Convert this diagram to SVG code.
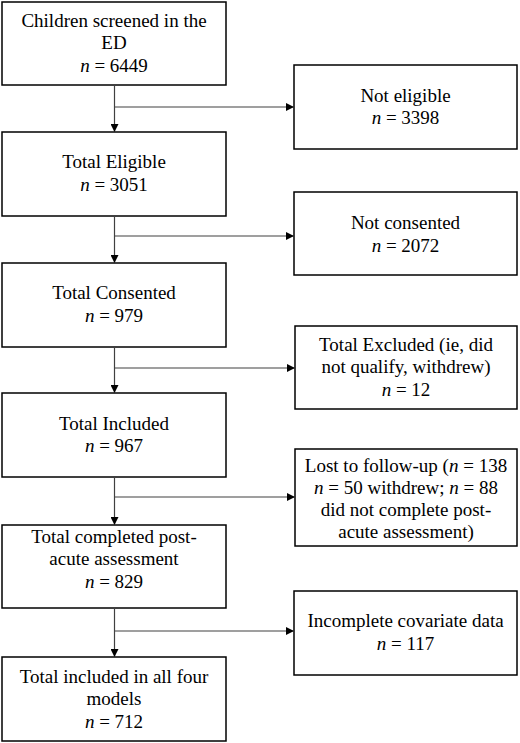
<svg xmlns="http://www.w3.org/2000/svg" width="520" height="743" viewBox="0 0 520 743" font-family="Liberation Serif, Times New Roman, serif">
<style>
rect{fill:#fff;stroke:#000;stroke-width:1.5}
text{font-size:19px;fill:#000;text-anchor:middle}
.c line{stroke:#404040;stroke-width:1.2}
</style>
<defs>
<marker id="ah" viewBox="0 0 10 10" refX="10" refY="5" markerWidth="8" markerHeight="8" markerUnits="userSpaceOnUse" orient="auto">
<path d="M0,0 L10,5 L0,10 Z" fill="#000"/>
</marker>
</defs>
<rect x="0" y="0" width="520" height="743" style="fill:#fff;stroke:none"/>
<g id="n1"><rect x="2" y="2" width="224" height="83"/>
<text x="114" y="27">Children screened in the</text><text x="114" y="49">ED</text><text x="114" y="72"><tspan font-style="italic">n</tspan> = 6449</text></g>
<g id="n2"><rect x="294" y="65" width="223" height="84"/>
<text x="405.5" y="102">Not eligible</text><text x="405.5" y="124"><tspan font-style="italic">n</tspan> = 3398</text></g>
<g id="n3"><rect x="2" y="132" width="224" height="84"/>
<text x="114" y="168">Total Eligible</text><text x="114" y="191"><tspan font-style="italic">n</tspan> = 3051</text></g>
<g id="n4"><rect x="294" y="192" width="223" height="83"/>
<text x="405.5" y="229">Not consented</text><text x="405.5" y="252"><tspan font-style="italic">n</tspan> = 2072</text></g>
<g id="n5"><rect x="2" y="263" width="224" height="84"/>
<text x="114" y="299">Total Consented</text><text x="114" y="322"><tspan font-style="italic">n</tspan> = 979</text></g>
<g id="n6"><rect x="295" y="326" width="222" height="83"/>
<text x="406" y="351">Total Excluded (ie, did</text><text x="406" y="373">not qualify, withdrew)</text><text x="406" y="396"><tspan font-style="italic">n</tspan> = 12</text></g>
<g id="n7"><rect x="2" y="393" width="224" height="84"/>
<text x="114" y="430">Total Included</text><text x="114" y="452"><tspan font-style="italic">n</tspan> = 967</text></g>
<g id="n8"><rect x="295" y="449" width="222" height="97"/>
<text x="406" y="472">Lost to follow-up (<tspan font-style="italic">n</tspan> = 138</text><text x="406" y="494"><tspan font-style="italic">n</tspan> = 50 withdrew; <tspan font-style="italic">n</tspan> = 88</text><text x="406" y="516">did not complete post-</text><text x="406" y="538">acute assessment)</text></g>
<g id="n9"><rect x="2" y="525" width="224" height="83"/>
<text x="114" y="543">Total completed post-</text><text x="114" y="565">acute assessment</text><text x="114" y="588"><tspan font-style="italic">n</tspan> = 829</text></g>
<g id="n10"><rect x="294" y="591" width="223" height="84"/>
<text x="405.5" y="627">Incomplete covariate data</text><text x="405.5" y="650"><tspan font-style="italic">n</tspan> = 117</text></g>
<g id="n11"><rect x="2" y="657" width="224" height="84"/>
<text x="114" y="683">Total included in all four</text><text x="114" y="705">models</text><text x="114" y="728"><tspan font-style="italic">n</tspan> = 712</text></g>
<g class="c" id="connectors">
<line x1="114.5" y1="85" x2="114.5" y2="132" marker-end="url(#ah)"/>
<line x1="114.5" y1="107" x2="294" y2="107" marker-end="url(#ah)"/>
<line x1="114.5" y1="216" x2="114.5" y2="263" marker-end="url(#ah)"/>
<line x1="114.5" y1="236" x2="294" y2="236" marker-end="url(#ah)"/>
<line x1="114.5" y1="347" x2="114.5" y2="393" marker-end="url(#ah)"/>
<line x1="114.5" y1="368" x2="295" y2="368" marker-end="url(#ah)"/>
<line x1="114.5" y1="477" x2="114.5" y2="525" marker-end="url(#ah)"/>
<line x1="114.5" y1="497" x2="295" y2="497" marker-end="url(#ah)"/>
<line x1="114.5" y1="608" x2="114.5" y2="657" marker-end="url(#ah)"/>
<line x1="114.5" y1="631" x2="294" y2="631" marker-end="url(#ah)"/>
</g>
</svg>
